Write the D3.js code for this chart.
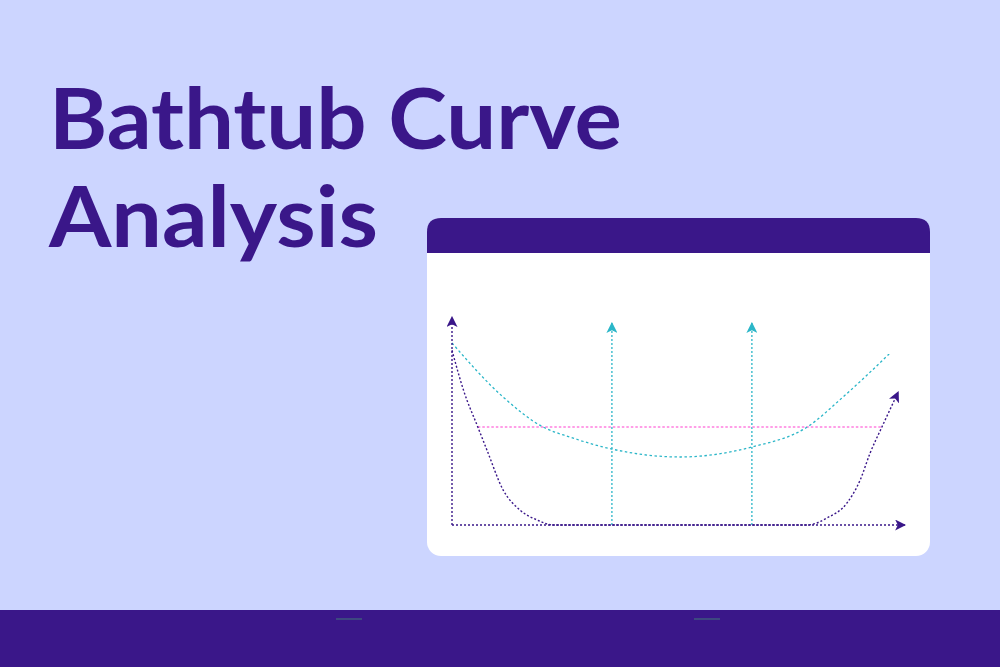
<!DOCTYPE html>
<html>
<head>
<meta charset="utf-8">
<script src="https://cdn.jsdelivr.net/npm/d3@7"></script>
<style>
  body { margin: 0; background: #ccd5ff; }
  svg { display: block; }
</style>
</head>
<body>
<div id="chart"></div>
<script>
// title lines
var titleLines = ["Bathtub Curve", "Analysis"];

// time axis 0..100, failure rate 0..100
var observedT    = [0, 2.6, 5.7, 7.7, 11.3, 15.0, 18.8, 22.3, 50, 78.4, 82.8, 87.2, 90.1, 92.3, 94.9, 98.5];
var observedRate = [84, 64.4, 47.1, 36.1, 16.8, 7.2, 2.4, 0, 0, 0, 3.4, 10.6, 21.6, 34.6, 47.1, 63.9];

var expectedT    = [0, 11.3, 20.1, 26, 35.3, 50.3, 66.2, 78.4, 86.3, 96.5];
var expectedRate = [87.5, 61.5, 47.1, 42.3, 36.5, 32.7, 37.5, 47.1, 61.5, 82.2];

var constantRate = 47.1;
var constantFrom = 5.7;
var constantTo = 94.9;

var phaseMarks = [35.3, 66.2];
var phaseTop = 97.1;

var svgW = 1000;
var svgH = 667;

var purple = "#3a1789";
var teal = "#2bb6c8";
var pink = "#ff7fe0";

var svg = d3.select("#chart")
    .append("svg")
    .attr("width", svgW)
    .attr("height", svgH);

svg.append("rect")
    .attr("width", svgW)
    .attr("height", svgH)
    .attr("fill", "#ccd5ff");

// bottom band
svg.append("rect")
    .attr("x", 0)
    .attr("y", 610)
    .attr("width", svgW)
    .attr("height", svgH - 610)
    .attr("fill", purple);

[336, 694].forEach(function(x) {
    svg.append("line")
        .attr("x1", x).attr("x2", x + 26)
        .attr("y1", 619).attr("y2", 619)
        .attr("stroke", "#3f5a7e")
        .attr("stroke-width", 1.5);
});

// title, stretched sideways to the width of the original lettering
var title = svg.append("g")
    .attr("fill", purple)
    .attr("font-family", "Lato, 'Open Sans', sans-serif")
    .attr("font-weight", 700)
    .attr("font-size", 84);

var titleWidths = [573, 329];
var titleBase = [149, 247];

titleLines.forEach(function(s, i) {
    var t = title.append("text")
        .attr("x", 0)
        .attr("y", 0)
        .text(s);
    var w = t.node().getComputedTextLength();
    var sx = titleWidths[i] / w;
    t.attr("transform", `translate(49, ${titleBase[i]}) scale(${sx}, 1)`);
});

// card
var card = {x: 427, y: 218, w: 503, h: 338, r: 14, head: 35};

svg.append("rect")
    .attr("x", card.x).attr("y", card.y)
    .attr("width", card.w).attr("height", card.h)
    .attr("rx", card.r)
    .attr("fill", "#ffffff");

svg.append("path")
    .attr("d", `M${card.x},${card.y + card.head} V${card.y + card.r} Q${card.x},${card.y} ${card.x + card.r},${card.y}`
        + ` H${card.x + card.w - card.r} Q${card.x + card.w},${card.y} ${card.x + card.w},${card.y + card.r}`
        + ` V${card.y + card.head} Z`)
    .attr("fill", purple);

// plot
var xScale = d3.scaleLinear().domain([0, 100]).range([452, 905]);
var yScale = d3.scaleLinear().domain([0, 100]).range([525, 317]);

var defs = svg.append("defs");
function marker(id, color) {
    defs.append("marker")
        .attr("id", id)
        .attr("viewBox", "0 0 10 10")
        .attr("refX", 9)
        .attr("refY", 5)
        .attr("markerWidth", 11)
        .attr("markerHeight", 11)
        .attr("markerUnits", "userSpaceOnUse")
        .attr("orient", "auto")
        .append("path")
        .attr("d", "M0,0 L10,5 L0,10 L2.5,5 Z")
        .attr("fill", color);
}
marker("arrPurple", purple);
marker("arrTeal", teal);

var plot = svg.append("g").attr("fill", "none");

// phase verticals
phaseMarks.forEach(function(t) {
    plot.append("line")
        .attr("x1", xScale(t)).attr("x2", xScale(t))
        .attr("y1", yScale(0)).attr("y2", yScale(phaseTop))
        .attr("stroke", teal)
        .attr("stroke-width", 1.3)
        .attr("stroke-dasharray", "2,2")
        .attr("marker-end", "url(#arrTeal)");
});

// constant failure rate
plot.append("line")
    .attr("x1", xScale(constantFrom)).attr("x2", xScale(constantTo))
    .attr("y1", yScale(constantRate)).attr("y2", yScale(constantRate))
    .attr("stroke", pink)
    .attr("stroke-width", 1.6)
    .attr("stroke-dasharray", "2.5,2");

var line = d3.line()
    .x(function(d) { return xScale(d[0]); })
    .y(function(d) { return yScale(d[1]); })
    .curve(d3.curveMonotoneX);

plot.append("path")
    .attr("d", line(d3.zip(expectedT, expectedRate)))
    .attr("stroke", teal)
    .attr("stroke-width", 1.3)
    .attr("stroke-dasharray", "2.5,2.5");

// axes
plot.append("line")
    .attr("x1", xScale(0)).attr("x2", xScale(0))
    .attr("y1", yScale(0)).attr("y2", yScale(100))
    .attr("stroke", purple)
    .attr("stroke-width", 1.4)
    .attr("stroke-dasharray", "2,2")
    .attr("marker-end", "url(#arrPurple)");

plot.append("line")
    .attr("x1", xScale(0)).attr("x2", xScale(100))
    .attr("y1", yScale(0)).attr("y2", yScale(0))
    .attr("stroke", purple)
    .attr("stroke-width", 1.4)
    .attr("stroke-dasharray", "2,2")
    .attr("marker-end", "url(#arrPurple)");

plot.append("path")
    .attr("d", line(d3.zip(observedT, observedRate)))
    .attr("stroke", purple)
    .attr("stroke-width", 1.4)
    .attr("stroke-dasharray", "2,2")
    .attr("marker-end", "url(#arrPurple)");
</script>
</body>
</html>
